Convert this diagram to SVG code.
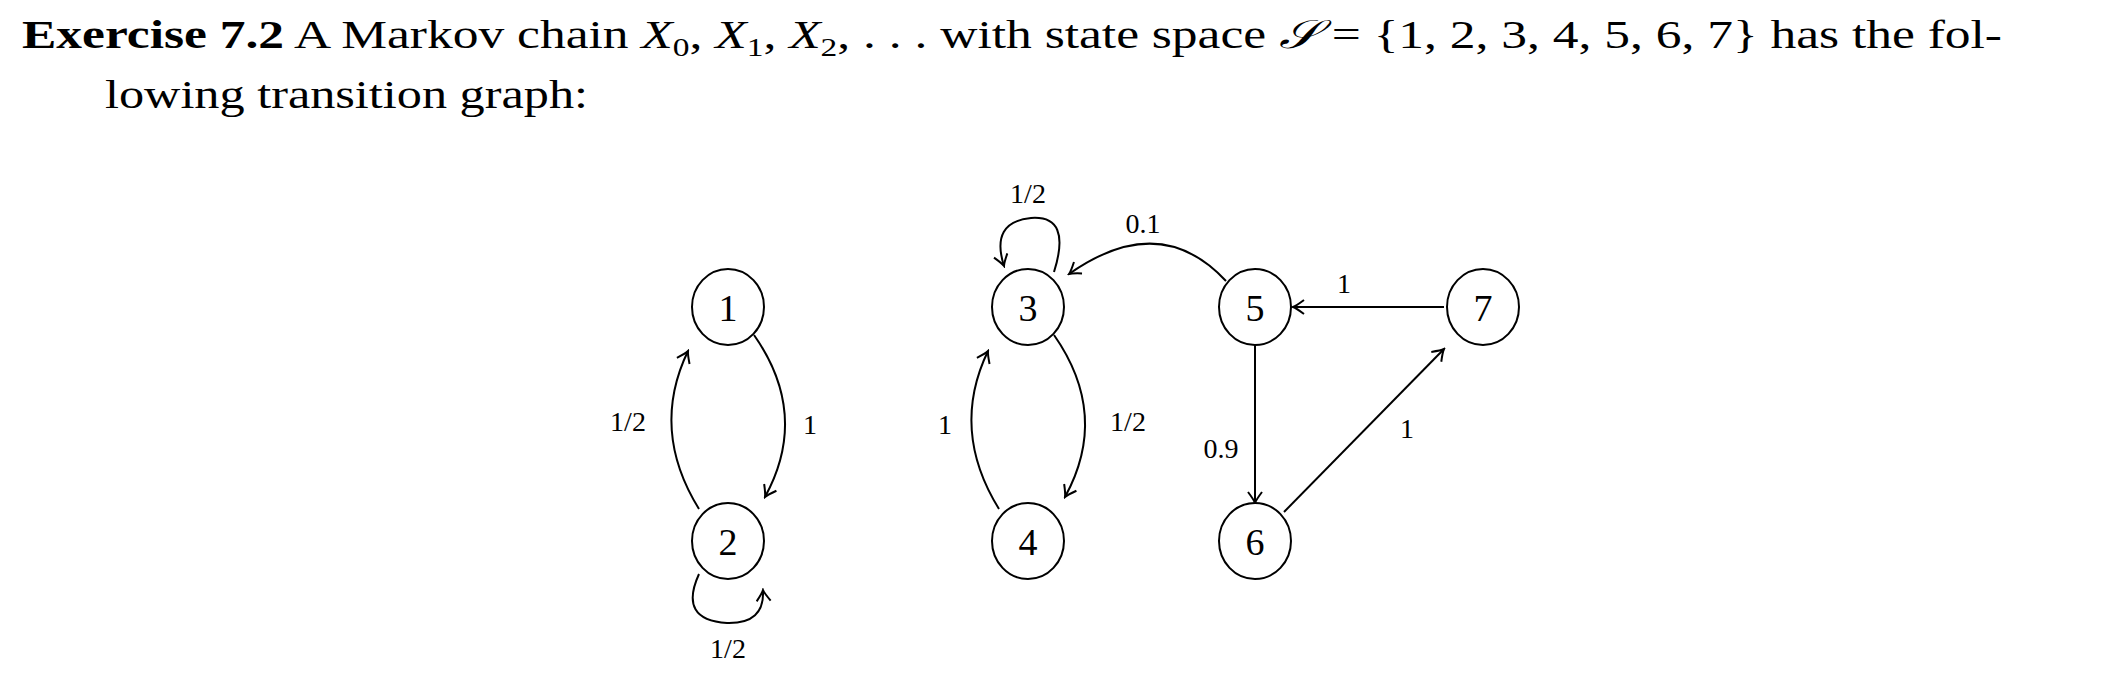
<svg xmlns="http://www.w3.org/2000/svg" width="2122" height="680" viewBox="0 0 2122 680">
<style>
text{font-family:"Liberation Serif","DejaVu Serif",serif;fill:#000}
.n ellipse{fill:#fff;stroke:#000;stroke-width:2}
.n text{font-size:38px;text-anchor:middle}
.l{font-size:28px;text-anchor:middle}
#edges path{fill:none;stroke:#000;stroke-width:2;marker-end:url(#a)}
.h{font-size:40px}
</style>
<defs>
<marker id="a" viewBox="-12 -8 14 16" markerWidth="14" markerHeight="16" refX="0" refY="0" orient="auto" markerUnits="userSpaceOnUse">
<path d="M-11,-7 Q-3,-1 0,0 Q-3,1 -11,7" fill="none" stroke="#000" stroke-width="2"/>
</marker>
</defs>
<text class="h" x="22" y="48" textLength="1980" lengthAdjust="spacingAndGlyphs"><tspan font-weight="bold">Exercise 7.2</tspan>  A Markov chain <tspan font-style="italic">X</tspan><tspan font-size="26" dy="8">0</tspan><tspan dy="-8">, </tspan><tspan font-style="italic">X</tspan><tspan font-size="26" dy="8">1</tspan><tspan dy="-8">, </tspan><tspan font-style="italic">X</tspan><tspan font-size="26" dy="8">2</tspan><tspan dy="-8">, . . .  with state space </tspan><tspan font-style="italic">𝒮</tspan> = {1, 2, 3, 4, 5, 6, 7} has the fol-</text>
<text class="h" x="105" y="108" textLength="483" lengthAdjust="spacingAndGlyphs">lowing transition graph:</text>
<g id="edges">
<path d="M699,509 Q650,430 688,351"/>
<path d="M754,335 Q810,415 765,497"/>
<path d="M999,509 Q950,430 988,351"/>
<path d="M1054,335 Q1110,415 1065,497"/>
<path d="M1226,281 Q1160,210 1069,274"/>
<path d="M1054,272 Q1072,215 1031,218 Q990,222 1004,266"/>
<path d="M699,574 Q678,620 727,623 Q765,624 763,590"/>
<path d="M1444,307 L1293,307"/>
<path d="M1255,344 L1255,503"/>
<path d="M1284,512 L1444,349"/>
</g>
<g id="n1" class="n"><ellipse cx="728" cy="307" rx="36" ry="38"/><text x="728" y="321">1</text></g>
<g id="n2" class="n"><ellipse cx="728" cy="541" rx="36" ry="38"/><text x="728" y="555">2</text></g>
<g id="n3" class="n"><ellipse cx="1028" cy="307" rx="36" ry="38"/><text x="1028" y="321">3</text></g>
<g id="n4" class="n"><ellipse cx="1028" cy="541" rx="36" ry="38"/><text x="1028" y="555">4</text></g>
<g id="n5" class="n"><ellipse cx="1255" cy="307" rx="36" ry="38"/><text x="1255" y="321">5</text></g>
<g id="n6" class="n"><ellipse cx="1255" cy="541" rx="36" ry="38"/><text x="1255" y="555">6</text></g>
<g id="n7" class="n"><ellipse cx="1483" cy="307" rx="36" ry="38"/><text x="1483" y="321">7</text></g>
<g id="labels">
<text class="l" x="628" y="431">1/2</text>
<text class="l" x="810" y="434">1</text>
<text class="l" x="945" y="434">1</text>
<text class="l" x="1128" y="431">1/2</text>
<text class="l" x="1221" y="458">0.9</text>
<text class="l" x="1407" y="438">1</text>
<text class="l" x="1344" y="293">1</text>
<text class="l" x="1143" y="233">0.1</text>
<text class="l" x="1028" y="203">1/2</text>
<text class="l" x="728" y="658">1/2</text>
</g>
</svg>
